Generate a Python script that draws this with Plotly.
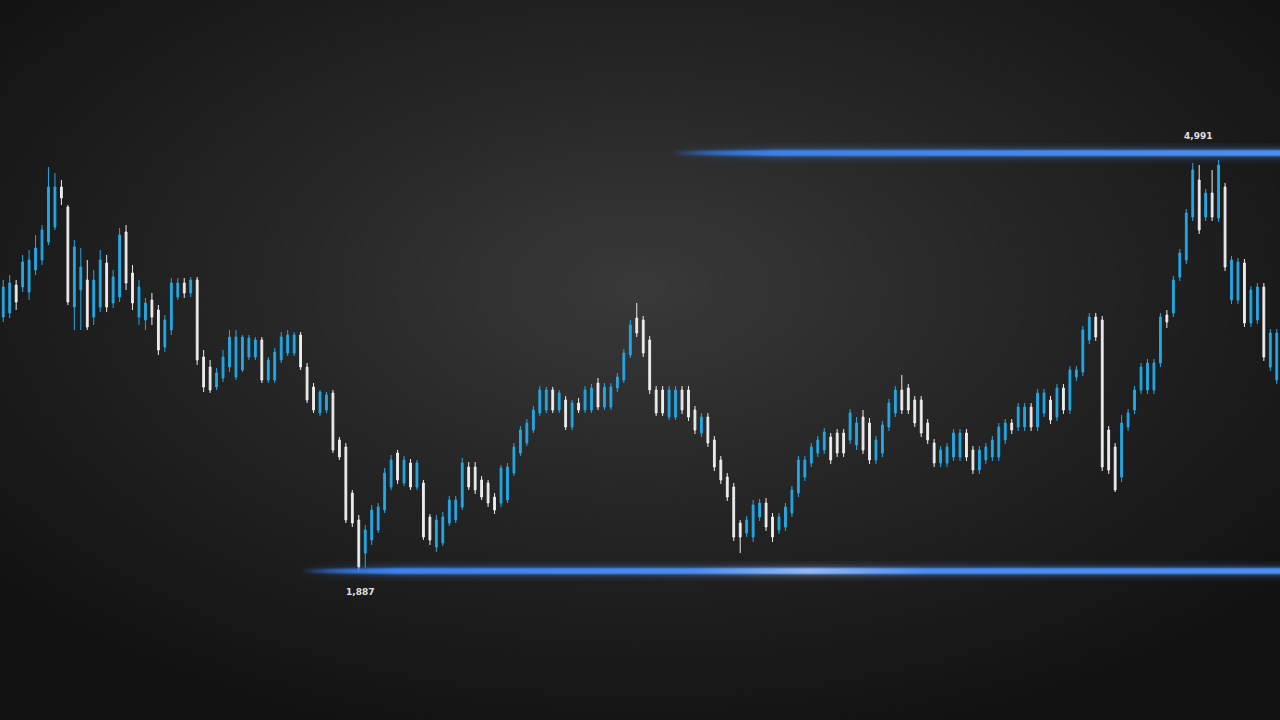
import base64
import plotly.graph_objects as go

# ---- data (price units) ----
open_ = [403,407,435,433,428,450,460,478,493,533,
         513,413,430,440,403,413,457,417,423,488,
         447,403,400,420,410,373,390,423,437,427,
         440,363,353,333,342,353,343,350,363,363,
         380,340,340,360,367,367,385,353,333,307,
         310,327,280,273,227,200,167,180,190,210,
         233,267,237,257,233,237,203,173,177,197,
         200,213,253,253,240,237,223,217,220,247,
         267,277,290,307,310,330,310,320,293,317,
         310,310,337,313,313,332,340,365,402,400,
         380,330,330,303,303,330,330,310,287,303,
         280,260,243,233,197,187,183,203,217,203,
         190,193,207,227,243,257,267,270,283,287,
         287,280,275,303,297,260,267,293,307,330,
         332,320,320,297,277,257,257,263,263,287,
         270,250,260,263,263,280,297,293,293,313,
         293,307,320,303,332,310,343,348,380,403,
         400,290,273,243,293,310,330,330,330,357,
         405,407,443,460,503,540,503,527,502,533,
         420,420,457,397,400,433,353,340]
close = [433,437,418,458,460,472,490,533,533,522,
         418,473,453,393,440,460,413,443,485,437,
         417,433,417,403,370,400,437,437,427,440,
         360,333,330,347,363,383,383,383,382,380,
         340,360,368,383,385,385,353,320,310,328,
         325,270,263,200,197,153,190,210,213,247,
         260,240,260,233,257,183,180,200,203,220,
         220,257,233,230,223,217,210,252,253,273,
         290,297,310,330,330,310,327,293,317,310,
         330,332,313,333,333,343,367,395,387,367,
         330,307,307,330,330,310,303,290,303,277,
         253,240,223,183,183,200,215,217,193,183,
         203,213,230,260,260,273,280,288,260,267,
         267,307,297,270,260,280,295,317,330,310,
         310,297,287,280,257,270,273,287,287,263,
         250,270,273,280,293,297,290,313,313,293,
         327,327,300,332,310,350,350,390,403,383,
         253,250,230,297,307,330,353,357,357,403,
         398,440,467,507,550,490,527,503,555,453,
         460,458,397,430,433,363,387,387]
high = [440,445,440,465,470,485,495,553,547,540,
        515,480,472,460,450,470,465,450,492,495,
        455,440,422,427,415,405,442,442,442,443,
        443,370,360,352,370,390,390,385,385,383,
        383,363,372,388,390,388,388,357,337,330,
        328,330,283,277,230,205,195,215,217,252,
        265,270,264,261,260,240,206,205,208,224,
        224,262,258,258,244,240,227,255,257,277,
        294,301,314,334,333,333,330,324,320,322,
        334,336,342,337,337,347,371,400,417,404,
        384,334,334,334,334,334,334,314,307,307,
        284,264,247,237,200,204,220,221,222,207,
        207,217,234,264,264,277,284,292,287,291,
        291,311,303,310,302,284,299,321,334,345,
        336,324,324,301,281,274,277,291,291,291,
        274,274,277,284,297,301,301,317,317,317,
        331,331,324,336,336,354,354,394,407,407,
        404,294,277,305,311,334,357,361,361,407,
        410,444,471,511,557,555,531,550,560,537,
        464,462,461,434,437,437,391,391]
low = [398,402,410,428,420,445,455,475,490,515,
       415,390,390,390,395,408,408,412,418,430,
       410,395,390,395,365,368,385,420,422,423,
       355,328,327,330,338,348,340,348,360,360,
       337,337,337,357,364,364,350,317,307,304,
       307,267,260,197,193,148,152,175,187,207,
       230,236,234,230,230,180,175,168,174,194,
       197,210,230,226,220,213,206,213,217,244,
       264,274,287,304,307,307,307,290,290,307,
       307,307,310,310,310,328,337,362,383,363,
       326,304,304,300,300,306,299,286,283,273,
       249,236,219,179,167,183,178,199,189,178,
       186,189,203,223,239,253,263,266,256,263,
       263,276,270,266,256,256,263,289,303,306,
       306,293,283,276,253,253,253,259,259,259,
       246,246,256,259,259,276,286,289,289,289,
       289,303,296,299,306,306,339,344,376,379,
       249,246,228,238,289,306,326,326,326,353,
       392,403,439,456,499,486,499,499,498,449,
       416,416,393,393,396,359,349,336]
bars = list(range(len(close)))

resistance = 567
support = 149
resistance_label = "4,991"
support_label = "1,887"

UP = "#22a8e6"
DOWN = "#ececec"


def b64svg(svg):
    return "data:image/svg+xml;base64," + base64.b64encode(svg.encode()).decode()


bg_svg = """<svg xmlns='http://www.w3.org/2000/svg' width='1280' height='720' viewBox='0 0 1280 720' preserveAspectRatio='none'>
<defs><radialGradient id='g' cx='50%' cy='40%' r='65%' fx='50%' fy='40%'>
<stop offset='0' stop-color='#393939'/><stop offset='0.45' stop-color='#262626'/>
<stop offset='1' stop-color='#121212'/></radialGradient></defs>
<rect width='1280' height='720' fill='url(#g)'/></svg>"""


def glow_svg(fade, hi=None):
    stops = (f"<stop offset='0' stop-color='#2f6fd8' stop-opacity='0'/>"
             f"<stop offset='{fade}' stop-color='#3d80e8' stop-opacity='1'/>")
    if hi is not None:
        stops += (f"<stop offset='{hi-0.12}' stop-color='#4a8cf0' stop-opacity='1'/>"
                  f"<stop offset='{hi}' stop-color='#8fb9fb' stop-opacity='1'/>"
                  f"<stop offset='{hi+0.12}' stop-color='#4a8cf0' stop-opacity='1'/>")
    stops += "<stop offset='1' stop-color='#4d8ff2' stop-opacity='1'/>"
    layers = ""
    for h, op in [(20, 0.05), (15, 0.08), (11, 0.15), (8, 0.3), (6, 0.6), (4.2, 0.9), (2.8, 1.0)]:
        layers += f"<rect x='0' y='{10 - h / 2}' width='1000' height='{h}' fill='url(#h)' opacity='{op}'/>"
    return f"""<svg xmlns='http://www.w3.org/2000/svg' width='1000' height='20' viewBox='0 0 1000 20' preserveAspectRatio='none'>
<defs><linearGradient id='h' x1='0' y1='0' x2='1' y2='0'>{stops}</linearGradient></defs>
{layers}</svg>"""


fig = go.Figure(go.Candlestick(
    x=bars, open=open_, high=high, low=low, close=close,
    increasing=dict(line=dict(color=UP, width=1), fillcolor=UP),
    decreasing=dict(line=dict(color=DOWN, width=1), fillcolor=DOWN),
    whiskerwidth=0, hoverinfo="skip", showlegend=False,
))

images = [
    dict(source=b64svg(bg_svg), xref="paper", yref="paper", x=0, y=1,
         sizex=1, sizey=1, sizing="stretch", layer="below", xanchor="left", yanchor="top"),
    dict(source=b64svg(glow_svg(0.18)), xref="paper", yref="y", x=0.525, y=resistance + 10,
         sizex=0.475, sizey=20, sizing="stretch", layer="above", xanchor="left", yanchor="top"),
    dict(source=b64svg(glow_svg(0.1, 0.52)), xref="paper", yref="y", x=0.235, y=support + 10,
         sizex=0.765, sizey=20, sizing="stretch", layer="above", xanchor="left", yanchor="top"),
]

fig.update_layout(
    width=1280, height=720,
    margin=dict(l=0, r=0, t=0, b=0),
    paper_bgcolor="#1a1a1a", plot_bgcolor="rgba(0,0,0,0)",
    images=images,
    boxgap=0.6,
    xaxis=dict(range=[-0.5, len(close) - 0.5], visible=False, showgrid=False,
               rangeslider=dict(visible=False), fixedrange=True),
    yaxis=dict(range=[0, 720], visible=False, showgrid=False, fixedrange=True),
    annotations=[
        dict(text=resistance_label, xref="paper", yref="y", x=1198 / 1280, y=resistance + 17,
             xanchor="center", yanchor="middle", showarrow=False,
             font=dict(family="DejaVu Sans", size=9, color="#e0e0e0", weight=600)),
        dict(text=support_label, xref="paper", yref="y", x=360 / 1280, y=support - 21,
             xanchor="center", yanchor="middle", showarrow=False,
             font=dict(family="DejaVu Sans", size=9, color="#e0e0e0", weight=600)),
    ],
)

fig.write_html(
    "out.html",
    config={"displayModeBar": False},
    post_script="document.body.style.margin='0';document.body.style.overflow='hidden';"
                "document.body.style.background='#1a1a1a';",
)
